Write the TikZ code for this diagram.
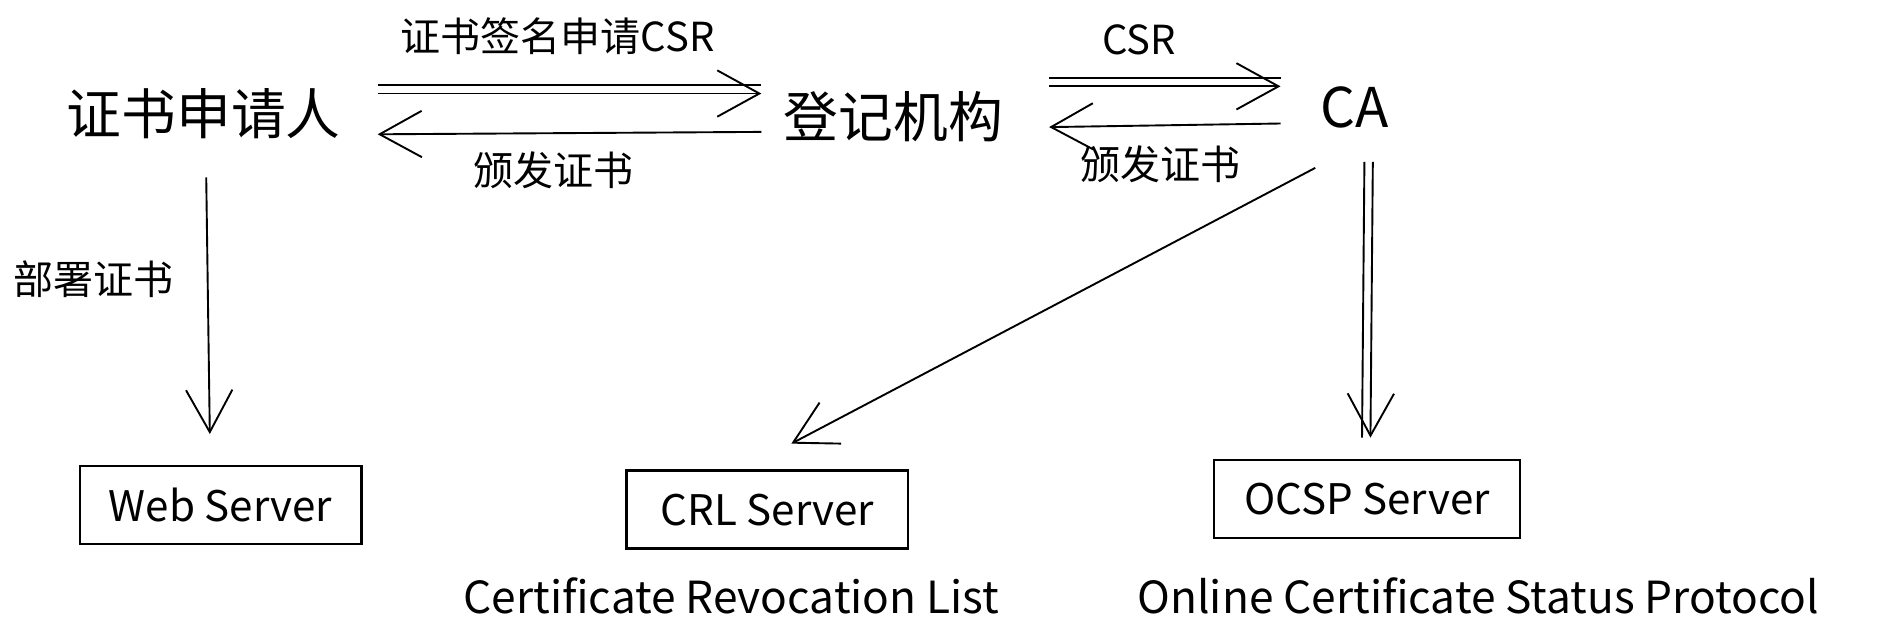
\documentclass[tikz,border=0pt]{standalone}
\usepackage{fontspec}
\setmainfont{Noto Sans CJK SC}
\usetikzlibrary{arrows.meta}
\begin{document}
\begin{tikzpicture}[x=0.02cm,y=-0.02cm,
 big/.style={font=\fontsize{26}{28}\selectfont},
 mid/.style={font=\fontsize{19}{21}\selectfont},
 eng/.style={font=\fontsize{21}{23}\selectfont},
 box/.style={draw,line width=1.1pt,minimum width=4.7cm,minimum height=1.3cm,font=\fontsize{20}{22}\selectfont},
 arr/.style={line width=0.9pt,-{Straight Barb[length=20pt,width=22pt]}},
 ln/.style={line width=0.9pt}]
\useasboundingbox (0,0) rectangle (1568,525);
\node[big] (app) at (170,95) {证书申请人};
\node[big] (ra) at (745,97) {登记机构};
\node[big] (ca) at (1130,90) {CA};
\node[box] (web) at (184,421) {Web Server};
\node[box] (crl) at (640,425) {CRL Server};
\node[box,minimum width=5.1cm] (ocsp) at (1140,416) {OCSP Server};
\node[mid] (l1) at (465,30) {证书签名申请CSR};
\node[mid] (l2) at (462,142) {颁发证书};
\node[mid] (l3) at (950,33) {CSR};
\node[mid] (l4) at (968,137) {颁发证书};
\node[mid] (l5) at (78,233) {部署证书};
\node[eng] (l6) at (610,497) {Certificate Revocation List};
\node[eng] (l7) at (1233,497) {Online Certificate Status Protocol};
\coordinate (a1) at (315,78); \coordinate (a2) at (635,78);
\coordinate (b1) at (635,110); \coordinate (b2) at (315,112);
\coordinate (c1) at (875,72); \coordinate (c2) at (1068,72);
\coordinate (d1) at (1068,103); \coordinate (d2) at (875,106);
\coordinate (w1) at (172,148); \coordinate (w2) at (175,362);
\coordinate (r1) at (1097,140); \coordinate (r2) at (660,370);
\coordinate (o1) at (1145,135); \coordinate (o2) at (1143,365);
\draw[ln] ([yshift=4]a1) -- ([yshift=4]a2);
\draw[arr] (a1) -- (a2);
\draw[arr] (b1) -- (b2);
\draw[ln] ([yshift=4]c1) -- ([yshift=4]c2);
\draw[arr] (c1) -- (c2);
\draw[arr] (d1) -- (d2);
\draw[arr] (w1) -- (w2);
\draw[arr] (r1) -- (r2);
\draw[ln] ([xshift=-4]o1) -- ([xshift=-4]o2);
\draw[arr] (o1) -- (o2);
\end{tikzpicture}
\end{document}
